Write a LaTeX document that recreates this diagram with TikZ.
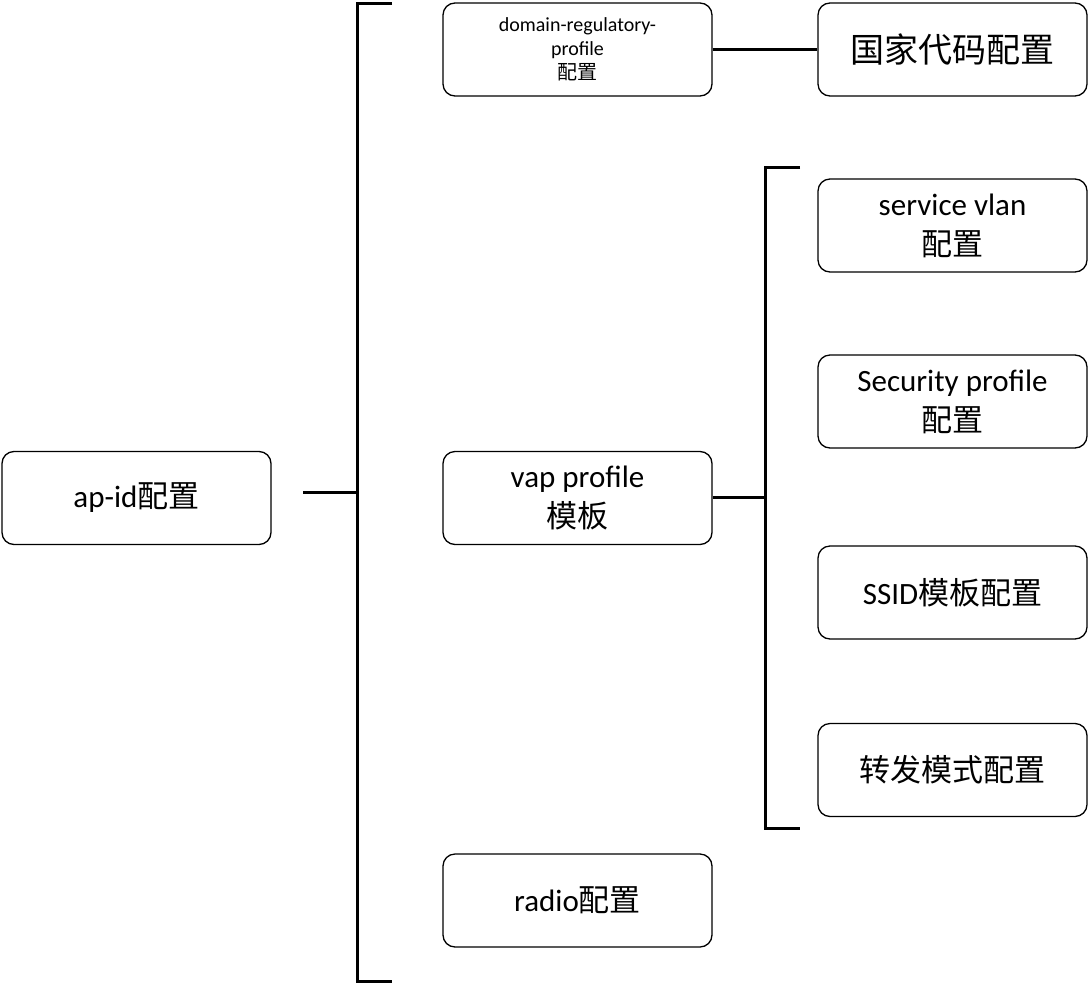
\documentclass[tikz,border=0pt]{standalone}
\usepackage{fontspec}
\setmainfont{Carlito}
\newfontfamily\cjk{Noto Sans CJK SC}
\begin{document}
\begin{tikzpicture}[x=1pt,y=-1pt,
  bx/.style={draw,line width=1.3pt,rounded corners=12pt,minimum width=269pt,minimum height=93pt,align=center,inner sep=0pt},
  ln/.style={line width=3pt}]
\useasboundingbox (0,0) rectangle (1089,985);
\node[bx,font=\fontsize{31}{36}\selectfont] (ap) at (136.5,498) {ap-id{\cjk 配置}};
\node[bx,font=\fontsize{20}{24}\selectfont] (dom) at (577.5,49.5) {domain-regulatory-\\profile\\{\cjk 配置}};
\node[bx,font=\fontsize{31}{40}\selectfont] (vap) at (577.5,498) {vap profile\\{\cjk 模板}};
\node[bx,font=\fontsize{31}{36}\selectfont] (rad) at (577.5,900.5) {radio{\cjk 配置}};
\node[bx,font=\fontsize{34}{40}\selectfont] (gj) at (952.5,49.5) {\cjk 国家代码配置};
\node[bx,font=\fontsize{31}{40}\selectfont] (sv) at (952.5,225.5) {service vlan\\{\cjk 配置}};
\node[bx,font=\fontsize{31}{40}\selectfont] (sp) at (952.5,401.5) {Security profile\\{\cjk 配置}};
\node[bx,font=\fontsize{31}{36}\selectfont] (ss) at (952.5,592.5) {SSID{\cjk 模板配置}};
\node[bx,font=\fontsize{31}{36}\selectfont] (zf) at (952.5,770) {\cjk 转发模式配置};
\coordinate (a1) at (303,492);
\coordinate (a2) at (357,492);
\draw[ln] (a1) -- (a2);
\draw[ln] (392,3) -- (357,3) -- (357,981) -- (392,981);
\draw[ln] (dom.east) -- (gj.west);
\coordinate (b1) at (765,497);
\draw[ln] (vap.east |- b1) -- (b1);
\draw[ln] (800,167) -- (765,167) -- (765,828) -- (800,828);
\end{tikzpicture}
\end{document}
